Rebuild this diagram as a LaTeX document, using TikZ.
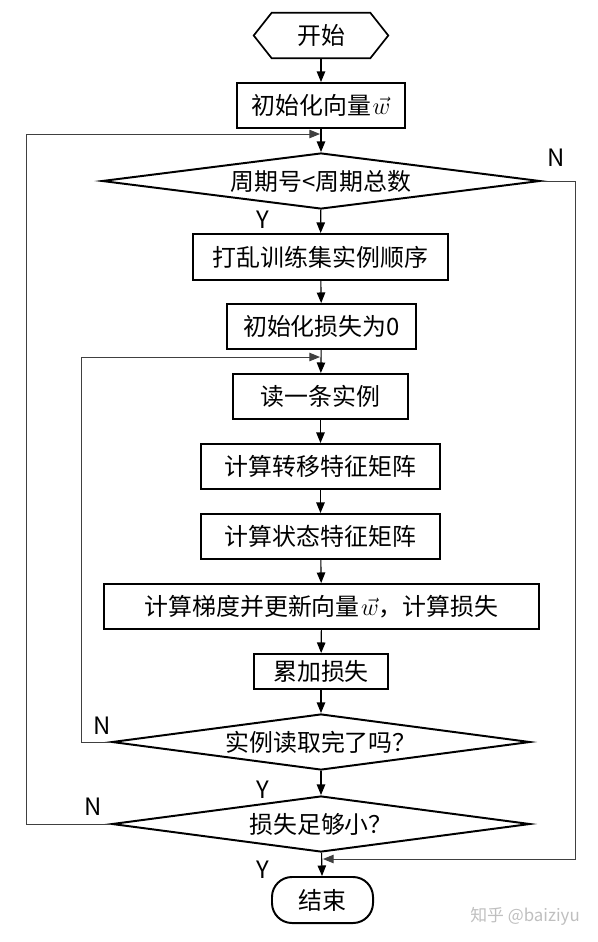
\documentclass[tikz,border=0pt]{standalone}
\usepackage{fontspec}
\setmainfont{Noto Sans CJK SC}
\usetikzlibrary{shapes.geometric,arrows.meta}
\newcommand{\vw}{\kern1pt{\fontsize{19}{20}\selectfont$\vec{w}$}}
\begin{document}
\begin{tikzpicture}[x=0.025cm,y=-0.025cm,
  font=\fontsize{17}{20}\selectfont,
  >={Triangle[length=7.5pt,width=6pt]},
  box/.style={draw,line width=1.4pt,minimum height=1.125cm,inner sep=0pt},
  dec/.style={draw,diamond,line width=1.4pt,aspect=8,inner sep=0pt,minimum height=1.4cm},
  flow/.style={->,line width=0.8pt},
  loop/.style={->,line width=0.7pt,black!75}]
\useasboundingbox (0,0) rectangle (598,942);
\node[minimum width=3.35cm,minimum height=1.125cm] (st) at (321,35.5) {开始};
\node[box,minimum width=4.2cm] (b1) at (321,105.5) {初始化向量\vw};
\node[dec,minimum width=10.95cm] (d1) at (321,181) {周期号<周期总数};
\node[box,minimum width=6.375cm,minimum height=1.15cm] (b2) at (320.5,257) {打乱训练集实例顺序};
\node[box,minimum width=4.725cm] (b3) at (321.5,326.5) {初始化损失为0};
\node[box,minimum width=4.375cm] (b4) at (320.5,396.5) {读一条实例};
\node[box,minimum width=5.975cm] (b5) at (320.5,466.5) {计算转移特征矩阵};
\node[box,minimum width=5.975cm] (b6) at (320.5,536.5) {计算状态特征矩阵};
\node[box,minimum width=10.875cm] (b7) at (321.5,606.5) {计算梯度并更新向量\vw，计算损失};
\node[box,minimum width=3.35cm,minimum height=0.875cm] (b8) at (321,671.5) {累加损失};
\node[dec,minimum width=10.45cm] (d2) at (321,742) {实例读取完了吗？};
\node[dec,minimum width=10.45cm] (d3) at (321,824) {损失足够小？};
\node[box,rounded corners=0.5cm,minimum width=2.525cm,minimum height=1.15cm] (en) at (322.5,900) {结束};

\draw[line width=1.2pt] (st.west) -- ([xshift=0.45cm]st.north west) -- ([xshift=-0.45cm]st.north east) -- (st.east) -- ([xshift=-0.45cm]st.south east) -- ([xshift=0.45cm]st.south west) -- cycle;

\coordinate (oL) at (26,134);
\coordinate (oJ) at (320,134);
\coordinate (iL) at (81,357);
\coordinate (iJ) at (320,357);
\coordinate (rB) at (575,859);
\coordinate (rJ) at (323,859);

\draw[flow] (st) -- (b1);
\draw[flow] (b1) -- (d1);
\draw[flow] (d1) -- (b2);
\draw[flow] (b2) -- (b3);
\draw[flow] (b3) -- (b4);
\draw[flow] (b4) -- (b5);
\draw[flow] (b5) -- (b6);
\draw[flow] (b6) -- (b7);
\draw[flow] (b7) -- (b8);
\draw[flow] (b8) -- (d2);
\draw[flow] (d2) -- (d3);
\draw[flow] (d3) -- (en);

\draw[loop] (d1.east) -| (rB) -- (rJ);
\draw[loop] (d2.west) -| (iL) -- (iJ);
\draw[loop] (d3.west) -| (oL) -- (oJ);

\node (y1) at (263,220) {Y};
\node (y2) at (263,790) {Y};
\node (y3) at (263,870) {Y};
\node (n1) at (556,158) {N};
\node (n2) at (102,726) {N};
\node (n3) at (93,807) {N};
\node[text=black!25,font=\fontsize{12}{14}\selectfont] (wm) at (525,916) {知乎 @baiziyu};
\end{tikzpicture}
\end{document}
